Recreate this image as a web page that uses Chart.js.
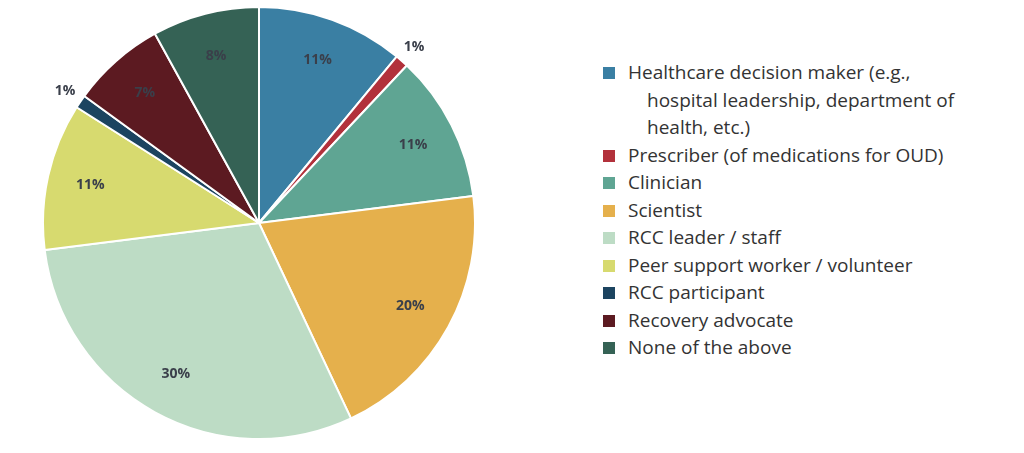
<!DOCTYPE html>
<html><head><meta charset="utf-8">
<script src="https://cdn.jsdelivr.net/npm/chart.js@4"></script>
<style>
body{margin:0;width:1024px;height:453px;background:#fff;font-family:"Open Sans",sans-serif;overflow:hidden}
#pie{position:absolute;left:40px;top:4px;width:438px;height:438px}
#legend{position:absolute;left:603px;top:59px;width:375px;font-size:19px;color:#333;line-height:27.5px}
.it{position:relative;padding-left:25px}
.it .sq{position:absolute;left:0;top:8px;width:12px;height:12px}
.it .tx{display:block;padding-left:19px;text-indent:-19px}
</style></head><body>
<div id="pie"><canvas id="c"></canvas></div>
<div id="legend"></div>
<script>
const categories=["Healthcare decision maker (e.g., hospital leadership, department of health, etc.)","Prescriber (of medications for OUD)","Clinician","Scientist","RCC leader / staff","Peer support worker / volunteer","RCC participant","Recovery advocate","None of the above"];
const values=[11,1,11,20,30,11,1,7,8];
const colors=["#3A7FA3","#B2313B","#5FA593","#E5B04C","#BDDCC5","#D7DA6F","#1C4460","#5C1A21","#356255"];
const lg=document.getElementById('legend');
categories.forEach((c,i)=>{const d=document.createElement('div');d.className='it';d.innerHTML='<span class="sq" style="background:'+colors[i]+'"></span><span class="tx"></span>';d.querySelector('.tx').textContent=c;lg.appendChild(d);});
const labelPlugin={id:'lbl',afterDatasetsDraw(ch){const ctx=ch.ctx;const meta=ch.getDatasetMeta(0);ctx.save();ctx.font='bold 14px "Open Sans"';ctx.fillStyle='#3a3f4a';ctx.textAlign='center';ctx.textBaseline='middle';
meta.data.forEach((a,i)=>{const ang=(a.startAngle+a.endAngle)/2;const f=values[i]<3?1.085:0.8;const r=a.outerRadius*f;ctx.fillText(values[i]+'%',a.x+Math.cos(ang)*r,a.y+Math.sin(ang)*r);});ctx.restore();}};
new Chart(document.getElementById('c'),{type:'pie',data:{labels:categories,datasets:[{data:values,backgroundColor:colors,borderColor:'#fff',borderWidth:2}]},
options:{responsive:true,maintainAspectRatio:false,animation:false,layout:{padding:2},plugins:{legend:{display:false},tooltip:{enabled:false}}},plugins:[labelPlugin]});
</script></body></html>
